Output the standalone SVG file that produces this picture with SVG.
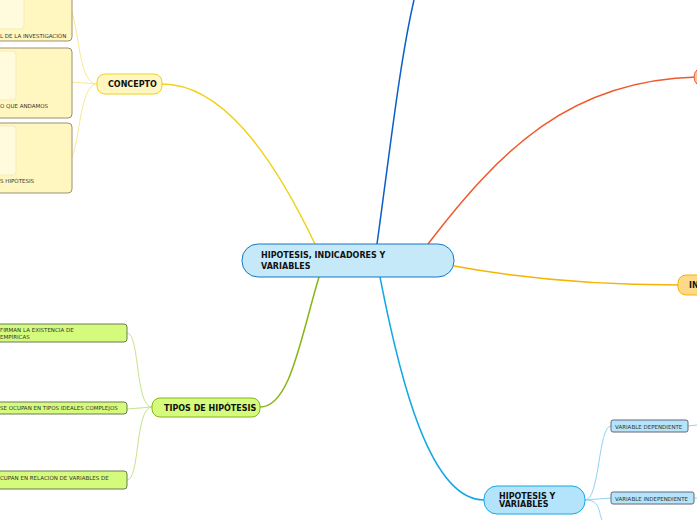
<svg xmlns="http://www.w3.org/2000/svg" width="697" height="520" viewBox="0 0 697 520">
<style>
text{font-family:Verdana,"DejaVu Sans",sans-serif;fill:#111}
.b{font-weight:bold;font-size:8px}
.s{font-size:5.5px;fill:#333}
.c{fill:none}
</style>
<rect width="697" height="520" fill="#fff"/>
<g id="connectors" class="c">
<path d="M377,244 C390,150 400,60 414,0" stroke="#0a5fc9" stroke-width="1.5" fill="none"/>
<path d="M428,244 C500,150 570,80 697,77" stroke="#f0582a" stroke-width="1.5" fill="none"/>
<path d="M454,266 C530,280 600,285 678,285" stroke="#f5b400" stroke-width="1.5" fill="none"/>
<path d="M315,244 C270,150 220,84 162,84" stroke="#eed21c" stroke-width="1.5" fill="none"/>
<path d="M319,277 C300,340 290,407 260,407" stroke="#86b615" stroke-width="1.5" fill="none"/>
<path d="M380,277 C400,380 430,500 484,500" stroke="#14a8e6" stroke-width="1.5" fill="none"/>
<path d="M97,84 C80,84 80,40 72,12 M97,84 L72,82 M97,84 C80,84 80,140 72,157" stroke="#f7ea94" stroke-width="1" fill="none"/>
<path d="M152,407 C135,407 140,333 127,333 M152,407 L127,409 M152,407 C135,407 140,480 127,480" stroke="#c6e48a" stroke-width="1" fill="none"/>
<path d="M585,500 C600,500 598,426 611,426 M585,500 L611,498 M585,500 C600,500 598,510 602,520" stroke="#8fd3f2" stroke-width="1" fill="none"/>
<path d="M688,426 L697,425 M694,498 L697,498" stroke="#8fd3f2" stroke-width="1" fill="none"/>
</g>
<g id="center"><rect x="242" y="244" width="212" height="33" rx="16" fill="#c6e9fa" stroke="#1577c6"/>
<text class="b" x="261" y="258">HIPOTESIS, INDICADORES Y</text><text class="b" x="261" y="269">VARIABLES</text></g>
<g id="n-orange"><rect x="694" y="67" width="20" height="20" rx="10" fill="#fbc3ad" stroke="#f0582a"/></g>
<g id="n-ind"><rect x="678" y="275" width="40" height="20" rx="8" fill="#ffd98a" stroke="#f5b400"/><text class="b" x="689" y="288">IN</text></g>
<g id="concepto"><rect x="97" y="74" width="65" height="20" rx="8" fill="#fff6c0" stroke="#eed21c"/><text class="b" x="108" y="87" font-size="7">CONCEPTO</text></g>
<g id="c1"><rect x="-10" y="-10" width="82" height="51" rx="4" fill="#fff6c0" stroke="#9a9270"/><rect x="-5" y="-5" width="29" height="34" rx="3" fill="#fffbdc" stroke="#f3ecc0"/><text class="s" x="0" y="38">L DE LA INVESTIGACIÓN</text></g>
<g id="c2"><rect x="-10" y="48" width="82" height="70" rx="4" fill="#fff6c0" stroke="#9a9270"/><rect x="-5" y="51" width="21" height="49" rx="3" fill="#fffbdc" stroke="#f3ecc0"/><text class="s" x="0" y="108">O QUE ANDAMOS</text></g>
<g id="c3"><rect x="-10" y="123" width="82" height="70" rx="4" fill="#fff6c0" stroke="#9a9270"/><rect x="-5" y="126" width="21" height="49" rx="3" fill="#fffbdc" stroke="#f3ecc0"/><text class="s" x="0" y="183">S HIPÓTESIS</text></g>
<g id="tipos"><rect x="152" y="398" width="108" height="19" rx="8" fill="#d4fb7c" stroke="#86b615"/><text class="b" x="164" y="411" font-size="7">TIPOS DE HIPÓTESIS</text></g>
<g id="t1"><rect x="-10" y="324" width="137" height="18" rx="3" fill="#d4fb7c" stroke="#6d7a55"/><text class="s" x="0" y="332">FIRMAN LA EXISTENCIA DE</text><text class="s" x="0" y="339">EMPÍRICAS</text></g>
<g id="t2"><rect x="-10" y="402" width="137" height="12" rx="3" fill="#d4fb7c" stroke="#6d7a55"/><text class="s" x="0" y="410">SE OCUPAN EN TIPOS IDEALES COMPLEJOS</text></g>
<g id="t3"><rect x="-10" y="471" width="137" height="18" rx="3" fill="#d4fb7c" stroke="#6d7a55"/><text class="s" x="0" y="480">CUPAN EN RELACIÓN DE VARIABLES DE</text></g>
<g id="hv"><rect x="484" y="486" width="101" height="28" rx="13" fill="#b4e4fb" stroke="#14a8e6"/><text class="b" x="499" y="499" font-size="7">HIPOTESIS Y</text><text class="b" x="499" y="507" font-size="7">VARIABLES</text></g>
<g id="vd"><rect x="611" y="420" width="77" height="12" rx="2" fill="#b4e4fb" stroke="#667"/><text class="s" x="615" y="428.5">VARIABLE DEPENDIENTE</text></g>
<g id="vi"><rect x="611" y="492" width="83" height="12" rx="2" fill="#b4e4fb" stroke="#667"/><text class="s" x="615" y="500.5">VARIABLE INDEPENDIENTE</text></g>
</svg>
